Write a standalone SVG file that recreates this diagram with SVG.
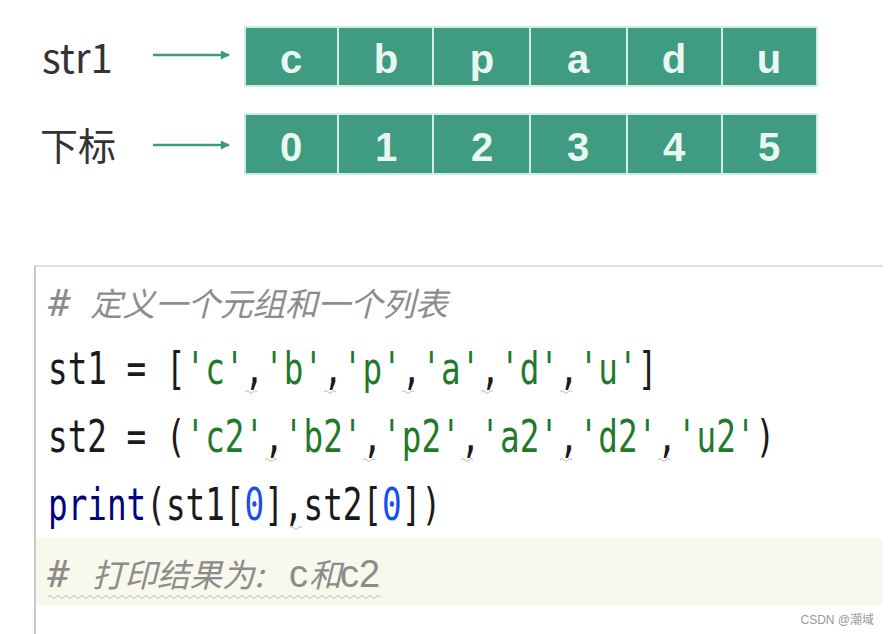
<svg xmlns="http://www.w3.org/2000/svg" width="889" height="634" viewBox="0 0 889 634">
<defs>
<marker id="ah" viewBox="0 0 10 10" refX="9" refY="5" markerWidth="11" markerHeight="9" orient="auto" markerUnits="userSpaceOnUse">
<path d="M0,0 L10,5 L0,10 z" fill="#3d9a80"/>
</marker>
<style>
.lbl{font-family:"Noto Sans CJK SC","Noto Sans",sans-serif;fill:#333;}
.cell{fill:#3f9b82;stroke:#cdeee3;stroke-width:2;}
.ct{font-family:"Liberation Sans",Arial,sans-serif;font-weight:bold;font-size:40px;fill:#e8f8f1;text-anchor:middle;}
.arr{stroke:#3d9a80;stroke-width:2.6;fill:none;}
.code{font-family:"DejaVu Sans Mono","Liberation Mono",monospace;font-size:44px;fill:#1a1a1a;}
.s{fill:#1f7a2c;}
.kw{fill:#000080;}
.num{fill:#1750eb;}
.cm{font-family:"Noto Sans CJK SC","Noto Sans",sans-serif;font-style:italic;fill:#8c8c8c;font-size:32.5px;}
.cmh{font-family:"DejaVu Sans Mono",monospace;font-style:italic;fill:#8c8c8c;font-size:38px;}
.cml{font-family:"Liberation Sans",Arial,sans-serif;fill:#8c8c8c;font-size:38px;}
.sq{stroke:#b8b8b8;stroke-width:1;fill:none;}
</style>
</defs>
<rect width="889" height="634" fill="#ffffff"/>

<g id="label-str1"><text class="lbl" x="42" y="73" font-size="40">str1</text></g>
<g id="label-index"><text class="lbl" x="40" y="160" font-size="38">下标</text></g>

<g id="connectors">
<line class="arr" x1="153" y1="55" x2="229" y2="55" marker-end="url(#ah)"/>
<line class="arr" x1="153" y1="145" x2="229" y2="145" marker-end="url(#ah)"/>
</g>

<g id="str1-array">
<rect class="cell" x="245" y="27" width="93" height="59"/>
<rect class="cell" x="338" y="27" width="95" height="59"/>
<rect class="cell" x="433" y="27" width="97" height="59"/>
<rect class="cell" x="530" y="27" width="97" height="59"/>
<rect class="cell" x="627" y="27" width="95" height="59"/>
<rect class="cell" x="722" y="27" width="95" height="59"/>
<text class="ct" x="291" y="73">c</text>
<text class="ct" x="386" y="73">b</text>
<text class="ct" x="482" y="73">p</text>
<text class="ct" x="578" y="73">a</text>
<text class="ct" x="674" y="73">d</text>
<text class="ct" x="769" y="73">u</text>
</g>

<g id="index-array">
<rect class="cell" x="245" y="114" width="93" height="60"/>
<rect class="cell" x="338" y="114" width="95" height="60"/>
<rect class="cell" x="433" y="114" width="97" height="60"/>
<rect class="cell" x="530" y="114" width="97" height="60"/>
<rect class="cell" x="627" y="114" width="95" height="60"/>
<rect class="cell" x="722" y="114" width="95" height="60"/>
<text class="ct" x="291" y="161">0</text>
<text class="ct" x="386" y="161">1</text>
<text class="ct" x="482" y="161">2</text>
<text class="ct" x="578" y="161">3</text>
<text class="ct" x="674" y="161">4</text>
<text class="ct" x="769" y="161">5</text>
</g>

<g id="code-panel">
<line x1="34" y1="266" x2="883" y2="266" stroke="#d4d4d4" stroke-width="1.5"/>
<line x1="35" y1="266" x2="35" y2="634" stroke="#c8c8c8" stroke-width="2"/>
<rect x="36" y="538" width="847" height="67" fill="#f9f8ec"/>

<text class="cmh" x="48" y="316">#</text>
<text class="cm" x="90" y="316">定义一个元组和一个列表</text>

<g transform="translate(48,384) scale(0.742,1)">
<text class="code" x="0" y="0">st1 = [<tspan class="s">'c'</tspan>,<tspan class="s">'b'</tspan>,<tspan class="s">'p'</tspan>,<tspan class="s">'a'</tspan>,<tspan class="s">'d'</tspan>,<tspan class="s">'u'</tspan>]</text>
</g>
<g transform="translate(48,452) scale(0.742,1)">
<text class="code" x="0" y="0">st2 = (<tspan class="s">'c2'</tspan>,<tspan class="s">'b2'</tspan>,<tspan class="s">'p2'</tspan>,<tspan class="s">'a2'</tspan>,<tspan class="s">'d2'</tspan>,<tspan class="s">'u2'</tspan>)</text>
</g>
<g transform="translate(48,520) scale(0.742,1)">
<text class="code" x="0" y="0"><tspan class="kw">print</tspan>(st1[<tspan class="num">0</tspan>],st2[<tspan class="num">0</tspan>])</text>
</g>

<text class="cmh" x="47" y="587">#</text>
<text class="cm" x="92" y="587">打印结果为:</text>
<text class="cml" x="289" y="587">c</text>
<text class="cm" x="309" y="587">和</text>
<text class="cml" x="340" y="587">c2</text>

<g id="squiggles">
<path class="sq" d="M245,392 q2,-3 4,0 t4,0 t4,0"/>
<path class="sq" d="M324,392 q2,-3 4,0 t4,0 t4,0"/>
<path class="sq" d="M402,392 q2,-3 4,0 t4,0 t4,0"/>
<path class="sq" d="M481,392 q2,-3 4,0 t4,0 t4,0"/>
<path class="sq" d="M560,392 q2,-3 4,0 t4,0 t4,0"/>
<path class="sq" d="M265,460 q2,-3 4,0 t4,0 t4,0"/>
<path class="sq" d="M363,460 q2,-3 4,0 t4,0 t4,0"/>
<path class="sq" d="M461,460 q2,-3 4,0 t4,0 t4,0"/>
<path class="sq" d="M560,460 q2,-3 4,0 t4,0 t4,0"/>
<path class="sq" d="M658,460 q2,-3 4,0 t4,0 t4,0"/>
<path class="sq" d="M290,528 q2,-3 4,0 t4,0 t4,0"/>
<path class="sq" d="M48,597 q2,-3 4,0 t4,0 t4,0 t4,0 t4,0 t4,0 t4,0 t4,0 t4,0 t4,0 t4,0 t4,0 t4,0 t4,0 t4,0 t4,0 t4,0 t4,0 t4,0 t4,0 t4,0 t4,0 t4,0 t4,0 t4,0 t4,0 t4,0 t4,0 t4,0 t4,0 t4,0 t4,0 t4,0 t4,0 t4,0 t4,0 t4,0 t4,0 t4,0 t4,0 t4,0 t4,0 t4,0 t4,0 t4,0 t4,0 t4,0 t4,0 t4,0 t4,0 t4,0 t4,0 t4,0 t4,0 t4,0 t4,0 t4,0 t4,0 t4,0 t4,0 t4,0 t4,0 t4,0 t4,0 t4,0 t4,0 t4,0 t4,0 t4,0 t4,0 t4,0 t4,0 t4,0 t4,0 t4,0 t4,0 t4,0 t4,0 t4,0 t4,0 t4,0 t4,0 t4,0"/>
</g>
</g>

<text x="874" y="624" font-family="Liberation Sans,&quot;Noto Sans CJK SC&quot;,sans-serif" font-size="12" fill="#999" text-anchor="end">CSDN @潮域</text>
</svg>
